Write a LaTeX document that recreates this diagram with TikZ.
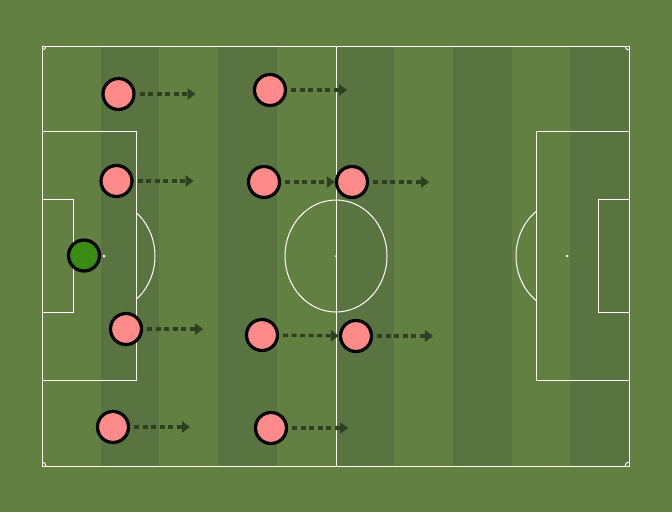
\documentclass[tikz,border=0pt]{standalone}
\usepackage{tikz}
\usetikzlibrary{arrows.meta,positioning}
\definecolor{grass}{RGB}{98,128,66}
\definecolor{stripe}{RGB}{89,116,64}
\definecolor{shirt}{RGB}{255,138,138}
\definecolor{keepershirt}{RGB}{58,138,20}
\definecolor{runcolor}{RGB}{45,64,34}
\tikzstyle{pitchline}=[white,line width=1pt]
\tikzstyle{player}=[circle,draw=black,line width=3.2pt,fill=shirt,minimum size=31pt,inner sep=0pt]
\tikzstyle{keeper}=[player,fill=keepershirt]
\tikzstyle{runarrow}=[-{Triangle[length=8pt,width=11pt]},draw=runcolor,line width=3.2pt,dash pattern=on 5pt off 3.5pt,shorten <=4pt]

\begin{document}
\begin{tikzpicture}[x=1pt,y=-1pt]
  \def\L{42}   % left touchline x
  \def\R{629}  % right touchline x
  \def\T{46}   % top line y
  \def\B{466}  % bottom line y
  \def\S{58.7} % stripe width
  \def\M{256}  % middle y

  % GRASS
  \useasboundingbox (0,0) rectangle (672,512);
  \fill[grass] (0,0) rectangle (672,512);
  \foreach \i in {1,3,5,7,9}
    \fill[stripe] (\L+\S*\i,\T) rectangle ++(\S,\B-\T);

  % LINES
  \draw[pitchline] (\L,\T) rectangle (\R,\B);
  \draw[pitchline] (336,\T) -- (336,\B);
  \draw[pitchline] (336,\M) ellipse [x radius=51,y radius=56];
  \fill[white] (336,\M) circle (1);
  \draw[pitchline] (\L,131) rectangle (136,380);
  \draw[pitchline] (\L,199) rectangle (73,312);
  \fill[white] (104,\M) circle (1.5);
  \begin{scope}
    \clip (136,\T) rectangle (336,\B);
    \draw[pitchline] (104,\M) ellipse [x radius=51,y radius=56];
  \end{scope}
  \draw[pitchline] (536,131) rectangle (\R,380);
  \draw[pitchline] (598,199) rectangle (\R,312);
  \fill[white] (567,\M) circle (1.5);
  \begin{scope}
    \clip (336,\T) rectangle (536,\B);
    \draw[pitchline] (567,\M) ellipse [x radius=51,y radius=56];
  \end{scope}
  \draw[pitchline] (\L+4,\T) arc[start angle=0,end angle=90,radius=4];
  \draw[pitchline] (\R-4,\T) arc[start angle=180,end angle=90,radius=4];
  \draw[pitchline] (\L+4,\B) arc[start angle=0,end angle=-90,radius=4];
  \draw[pitchline] (\R-4,\B) arc[start angle=180,end angle=270,radius=4];

  % PLAYERS
  \node[keeper] (gk) at (84,255.5) {};
  \node[player] (p1) at (118.5,94) {};
  \node[player] (p2) at (270,90) {};
  \node[player] (p3) at (116.5,181) {};
  \node[player] (p4) at (264,182) {};
  \node[player] (p5) at (352,182) {};
  \node[player] (p6) at (126,329) {};
  \node[player] (p7) at (262,335) {};
  \node[player] (p8) at (356,336) {};
  \node[player] (p9) at (113,427) {};
  \node[player] (p10) at (271,428) {};

  % RUNS
  \foreach \p in {p1,p2,p3,p5,p6,p8,p9,p10}
    \coordinate[right=60pt of \p] (\p-to);
  \foreach \p in {p1,p2,p3,p5,p6,p8,p9,p10}
    \draw[runarrow] (\p) -- (\p-to);
  \draw[runarrow] (p4) -- (p5);
  \draw[runarrow] (p7) -- (p8);

\end{tikzpicture}
\end{document}
